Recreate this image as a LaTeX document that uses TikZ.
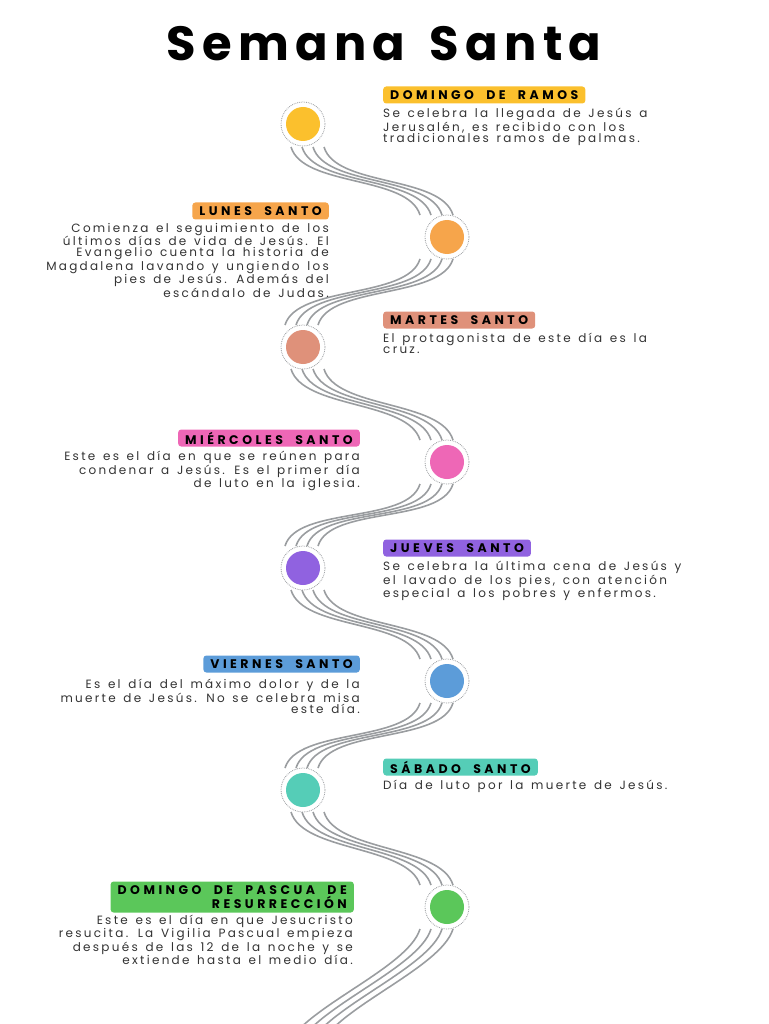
\documentclass[tikz,border=0pt]{standalone}
\usepackage{fontspec}
\setmainfont{Poppins}
\newfontfamily\bodyf[LetterSpace=19,WordSpace=1.4]{Poppins}
\newfontfamily\labf[LetterSpace=28,WordSpace=2]{Poppins}
\newfontfamily\titf[LetterSpace=13,WordSpace=1.5]{Poppins}
\definecolor{cA}{HTML}{FBC02D}
\definecolor{cB}{HTML}{F6A54B}
\definecolor{cC}{HTML}{DF917A}
\definecolor{cD}{HTML}{EE67B6}
\definecolor{cE}{HTML}{9062E0}
\definecolor{cF}{HTML}{5C9CD9}
\definecolor{cG}{HTML}{55CDB7}
\definecolor{cH}{HTML}{5BC75A}
\definecolor{txt}{HTML}{333333}
\definecolor{wv}{HTML}{9A9DA0}
\tikzset{
 dot/.style={circle,minimum size=34pt,inner sep=0pt},
 ring/.style={circle,draw=wv,densely dotted,line width=0.8pt,minimum size=44pt,inner sep=0pt},
 lab/.style={rounded corners=3pt,minimum height=17pt,inner xsep=7pt,inner ysep=0pt,font=\labf\bfseries\fontsize{12.5}{14}\selectfont,text=black},
 bodyR/.style={anchor=north west,align=left,inner sep=0pt,text=txt,font=\bodyf\fontsize{12}{11}\selectfont},
 bodyL/.style={anchor=north east,align=right,inner sep=0pt,text=txt,font=\bodyf\fontsize{12}{11}\selectfont},
 wline/.style={draw=wv,line width=1.6pt}
}
\newcommand{\wvR}[4]{\foreach \k in {0,1,2,3}{\draw[wline] ({#1+11*\k},#2) .. controls +(12,40) and +(-12,-40) .. ({#3+11*\k},#4);}}
\newcommand{\wvL}[4]{\foreach \k in {0,1,2,3}{\draw[wline] ({#1+11*\k},#2) .. controls +(-12,40) and +(12,-40) .. ({#3+11*\k},#4);}}
\begin{document}
\begin{tikzpicture}[x=1pt,y=-1pt]
\useasboundingbox (0,0) rectangle (768,1024);
\clip (0,0) rectangle (768,1024);
\node[font=\titf\bfseries\fontsize{48}{52}\selectfont] (title) at (384,44) {Semana Santa};
% waves
\wvR{291}{147}{420}{215}
\wvL{420}{259}{285}{325}
\wvR{291}{369}{420}{440}
\wvL{420}{484}{285}{546}
\wvR{291}{590}{420}{659}
\wvL{420}{703}{285}{768}
\wvR{291}{812}{420}{885}
\wvL{420}{929}{285}{1050}
% circles
\foreach \n/\x/\y/\c in {1/303/124/cA,2/447/237/cB,3/303/347/cC,4/447/462/cD,5/303/568/cE,6/447/681/cF,7/303/790/cG,8/447/907/cH}{
 \node[ring,fill=white] (r\n) at (\x,\y) {};
 \node[dot,fill=\c] (c\n) at (\x,\y) {};
}
% labels
\node[lab,fill=cA,anchor=west] (l1) at (383,95) {DOMINGO DE RAMOS};
\node[bodyR] (t1) at (383,108) {Se celebra la llegada de Jesús a\\Jerusalén, es recibido con los\\tradicionales ramos de palmas.};
\node[lab,fill=cB,anchor=east] (l2) at (329,211) {LUNES SANTO};
\node[bodyL] (t2) at (329,223) {Comienza el seguimiento de los\\últimos días de vida de Jesús. El\\Evangelio cuenta la historia de\\Magdalena lavando y ungiendo los\\pies de Jesús. Además del\\escándalo de Judas.};
\node[lab,fill=cC,anchor=west] (l3) at (383,320) {MARTES SANTO};
\node[bodyR] (t3) at (383,333) {El protagonista de este día es la\\cruz.};
\node[lab,fill=cD,anchor=east] (l4) at (360,438) {MIÉRCOLES SANTO};
\node[bodyL] (t4) at (360,451) {Este es el día en que se reúnen para\\condenar a Jesús. Es el primer día\\de luto en la iglesia.};
\node[lab,fill=cE,anchor=west] (l5) at (383,548) {JUEVES SANTO};
\node[bodyR] (t5) at (383,561) {Se celebra la última cena de Jesús y\\el lavado de los pies, con atención\\especial a los pobres y enfermos.};
\node[lab,fill=cF,anchor=east] (l6) at (360,664) {VIERNES SANTO};
\node[bodyL] (t6) at (360,679) {Es el día del máximo dolor y de la\\muerte de Jesús. No se celebra misa\\este día.};
\node[lab,fill=cG,anchor=west] (l7) at (383,767) {SÁBADO SANTO};
\node[bodyR] (t7) at (383,780) {Día de luto por la muerte de Jesús.};
\node[lab,fill=cH,anchor=east,align=right,minimum height=31pt] (l8) at (354,897) {DOMINGO DE PASCUA DE\\RESURRECCIÓN};
\node[bodyL] (t8) at (353,915) {Este es el día en que Jesucristo\\resucita. La Vigilia Pascual empieza\\después de las 12 de la noche y se\\extiende hasta el medio día.};
\end{tikzpicture}
\end{document}
